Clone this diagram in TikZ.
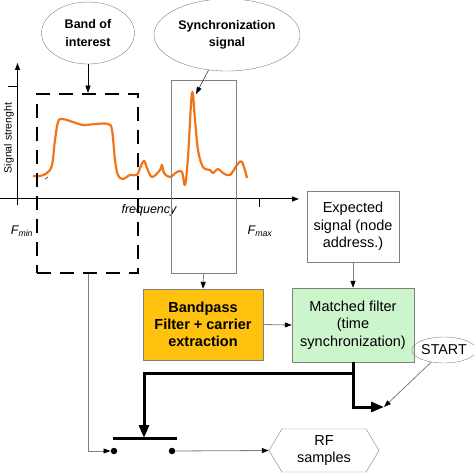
\documentclass[tikz,border=0pt]{standalone}
\usepackage{fontspec}
\setmainfont{Liberation Sans}
\usetikzlibrary{arrows.meta,shapes.geometric,shapes.symbols}

\definecolor{curveorange}{HTML}{F27419}
\definecolor{bpgold}{HTML}{FFC20E}
\definecolor{mfgreen}{HTML}{CCF5CC}

\begin{document}
\begin{tikzpicture}[x=1pt, y=-1pt, >={Triangle[length=7pt,width=5pt,color=black]},
    bubble/.style = {draw=gray, ellipse, inner sep=0pt, align=center, font=\bfseries\fontsize{12.5}{17.5}\selectfont},
    block/.style = {draw=gray, rectangle, inner sep=0pt, align=center, font=\fontsize{14.5}{17.5}\selectfont},
    bigarrow/.style = {line width=3pt, -{Triangle[length=13pt,width=10pt]}},
    grayline/.style = {draw=gray, line width=0.8pt}]
    \useasboundingbox (0,0) rectangle (474,473);

    % plot
    \draw[->, line width=1pt] (17.5,205) -- (17.5,63);
    \draw[->, line width=1pt] (0,199) -- (299,199);
    \draw[line width=1pt] (8,87) -- (17.5,87);
    \draw[line width=1pt] (259,199) -- (259,207);
    \node[rotate=90, font=\fontsize{10.5}{12}\selectfont] (ylabel) at (9,138) {Signal strenght};
    \node[font=\itshape\fontsize{12.5}{14}\selectfont] (xlabel) at (149,210) {frequency};
    \node[font=\itshape\fontsize{12.5}{14}\selectfont] (fmin) at (22,231) {F\textsubscript{min}};
    \node[font=\itshape\fontsize{12.5}{14}\selectfont] (fmax) at (260,231) {F\textsubscript{max}};
    \draw[gray!60!black, line width=0.8pt] (45,179) -- (48,177);

    \draw[curveorange, line width=2.2pt, line join=round] plot[smooth, tension=0.6] coordinates {
      (33,176) (40,176) (47,173) (52,165) (55,140) (58,122) (62,119) (70,121)
      (83,125) (95,124) (108,124) (112,130) (115,160) (118,175) (123,179)
      (130,175) (137,175) (140,168) (144,161) (147,168) (152,177) (160,170)
      (162,165) (164,173) (170,177) (177,172) (182,172) (185,185) (188,157)
      (192,93) (195,120) (198,150) (203,167) (210,170) (213,173) (218,169)
      (223,173) (230,175) (237,165) (242,162) (247,178)};
    \coordinate (peak) at (196,94);

    % boxes
    \node[draw, dashed, dash pattern=on 14pt off 9pt, line width=2.5pt, minimum width=101pt, minimum height=179pt] (band) at (87.5,183.5) {};
    \node[draw=gray, line width=0.8pt, minimum width=65pt, minimum height=193pt] (sync) at (203.5,176.5) {};
    \node[bubble, minimum width=93pt, minimum height=62pt] (bandnote) at (88,33) {Band of\\interest};
    \node[bubble, minimum width=146pt, minimum height=72pt] (syncnote) at (227,35) {Synchronization\\signal};
    \node[block, minimum width=92pt, minimum height=71pt] (expected) at (353,226.5) {Expected\\signal (node\\address.)};
    \node[block, fill=mfgreen, minimum width=122pt, minimum height=74pt] (matched) at (353,325) {Matched filter\\(time\\synchronization)};
    \node[block, fill=bpgold, font=\bfseries\fontsize{14.5}{17}\selectfont, minimum width=120pt, minimum height=71pt] (bandpass) at (203,324.5) {Bandpass\\Filter + carrier\\extraction};
    \node[bubble, font=\fontsize{14.3}{16}\selectfont, minimum width=60pt, minimum height=26pt] (start) at (444,350) {START};
    \node[draw=gray, signal, signal to=east and west, signal pointer angle=118, inner sep=0pt, align=center, font=\fontsize{14.5}{17.5}\selectfont, minimum width=110pt, minimum height=43pt] (rf) at (324,450.5) {RF\\samples};

    % switch
    \draw[line width=3pt] (113,438) -- (177,438);
    \coordinate (bar) at (144,438);
    \node[circle, fill, inner sep=0pt, minimum size=6.5pt] (left) at (114,451) {};
    \node[circle, fill, inner sep=0pt, minimum size=6.5pt] (right) at (172,451) {};
    \coordinate (join) at (384,407);

    % connectors
    \draw[->] (bandnote.south) -- (bandnote.south |- band.north);
    \draw[->] (syncnote) -- (peak);
    \draw[->, grayline] (sync.south) -- (bandpass.north);
    \draw[->, grayline] (bandpass.east) -- (matched.west);
    \draw[->, grayline] (expected.south) -- (matched.north);
    \draw[bigarrow] (matched.south) |- (join);
    \draw[bigarrow] (matched.south) ++(0,11) -| (bar);
    \draw[->, grayline] (start) -- (join);
    \draw[->, grayline] (bandnote.south |- band.south) |- (left);
    \draw[->, grayline] (right) -- (rf.west);
\end{tikzpicture}
\end{document}
